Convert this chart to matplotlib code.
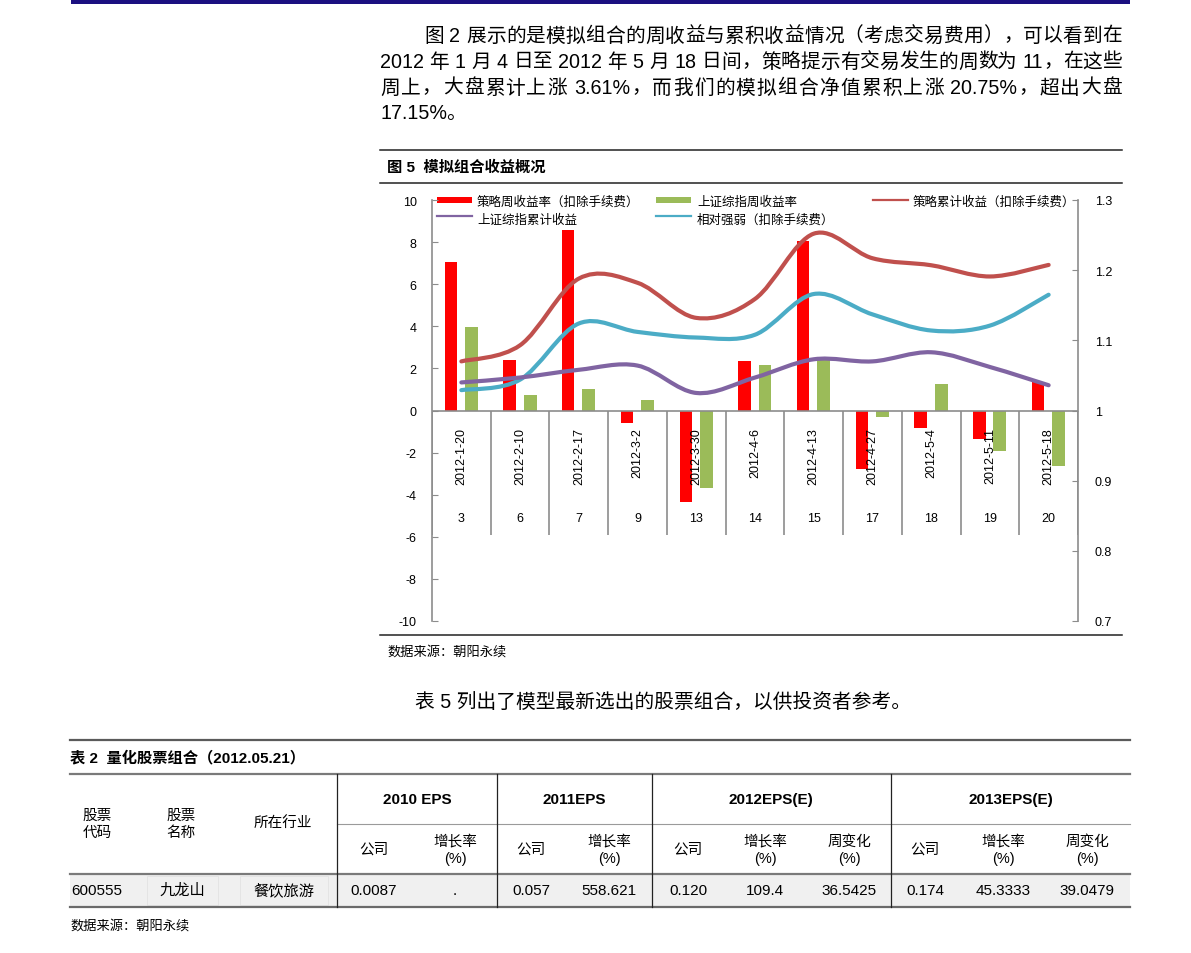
import re
import numpy as np
import matplotlib
matplotlib.use("Agg")
import matplotlib.pyplot as plt
from matplotlib.path import Path
from matplotlib.patches import PathPatch, Rectangle

plt.rcParams['font.family'] = ['Liberation Sans', 'Noto Sans CJK SC']
plt.rcParams['axes.unicode_minus'] = False

# chart data
dates = ["2012-1-20", "2012-2-10", "2012-2-17", "2012-3-2", "2012-3-30", "2012-4-6",
         "2012-4-13", "2012-4-27", "2012-5-4", "2012-5-11", "2012-5-18"]
weeks = ["3", "6", "7", "9", "13", "14", "15", "17", "18", "19", "20"]
strategy_weekly = [7.05, 2.42, 8.56, -0.60, -4.34, 2.34, 8.04, -2.77, -0.82, -1.34, 1.36]
index_weekly = [3.97, 0.73, 1.04, 0.52, -3.67, 2.15, 2.50, -0.30, 1.24, -1.93, -2.65]
strategy_cum = [1.070, 1.093, 1.188, 1.182, 1.132, 1.159, 1.252, 1.217, 1.207, 1.191, 1.2075]
index_cum = [1.040, 1.047, 1.058, 1.064, 1.025, 1.047, 1.073, 1.070, 1.083, 1.062, 1.036]
relative = [1.029, 1.044, 1.124, 1.112, 1.104, 1.108, 1.166, 1.137, 1.114, 1.121, 1.165]

left_ticks = [-10, -8, -6, -4, -2, 0, 2, 4, 6, 8, 10]
right_ticks = [0.7, 0.8, 0.9, 1.0, 1.1, 1.2, 1.3]

legend_labels = ["策略周收益率（扣除手续费）", "上证综指周收益率", "策略累计收益（扣除手续费）",
                 "上证综指累计收益", "相对强弱（扣除手续费）"]

# page text
para_lines = [
    "图 2 展示的是模拟组合的周收益与累积收益情况（考虑交易费用），可以看到在",
    "2012 年 1 月 4 日至 2012 年 5 月 18 日间，策略提示有交易发生的周数为 11，在这些",
    "周上，大盘累计上涨 3.61%，而我们的模拟组合净值累积上涨 20.75%，超出大盘",
    "17.15%。",
]
fig_title = "图 5  模拟组合收益概况"
source = "数据来源：朝阳永续"
para2 = "表 5 列出了模型最新选出的股票组合，以供投资者参考。"
table_title = "表 2  量化股票组合（2012.05.21）"

# table
group_heads = ["2010 EPS", "2011EPS", "2012EPS(E)", "2013EPS(E)"]
sub_heads = ["公司", "增长率\n(%)", "公司", "增长率\n(%)", "公司", "增长率\n(%)", "周变化\n(%)",
             "公司", "增长率\n(%)", "周变化\n(%)"]
row_vals = ["600555", "九龙山", "餐饮旅游", "0.0087", ".", "0.057", "558.621", "0.120",
            "109.4", "36.5425", "0.174", "45.3333", "39.0479"]

RED, GREEN = "#ff0000", "#9bbb59"
C_STRAT, C_IDX, C_REL = "#c0504d", "#8064a2", "#4bacc6"
GRAY = "#8c8c8c"

W, H = 1191, 954
fig = plt.figure(figsize=(W / 100, H / 100), dpi=100)
page = fig.add_axes([0, 0, 1, 1])
page.set_xlim(0, W)
page.set_ylim(H, 0)
page.axis("off")
renderer = fig.canvas.get_renderer()


def justified(s, x0, x1, y, size):
    toks = re.findall(r" |[0-9A-Za-z.%]+|.", s)
    items, sp = [], False
    for t in toks:
        if t == " ":
            sp = True
            continue
        items.append((t, sp))
        sp = False
    arts = [page.text(0, y, t, fontsize=size, va="center", ha="left") for t, _ in items]
    ws = [a.get_window_extent(renderer).width for a in arts]
    spw = size * 0.28 * 100 / 72
    base = sum(ws) + spw * sum(1 for _, s_ in items[1:] if s_)
    extra = (x1 - x0 - base) / (len(items) - 1)
    x = x0
    for i, (a, (t, s_)) in enumerate(zip(arts, items)):
        if i > 0:
            x += extra + (spw if s_ else 0)
        a.set_x(x)
        x += ws[i]


# header bar
page.add_patch(Rectangle((71, 0), 1059, 4.5, color="#1b0f80", lw=0))

# paragraph
justified(para_lines[0], 424, 1122, 36, 14.2)
justified(para_lines[1], 380, 1122, 62, 14.2)
justified(para_lines[2], 380, 1122, 88, 14.2)
page.text(380, 114, para_lines[3], fontsize=14.2, va="center")

# figure frame
for yy in (151, 184, 636):
    page.plot([380, 1122], [yy, yy], color="#222222", lw=1.1)
page.text(387, 168, fig_title, fontsize=11, fontweight="bold", va="center")
page.text(387, 652, source, fontsize=9.5, va="center")

# chart
ax = fig.add_axes([432 / W, 1 - 622 / H, (1078 - 432) / W, (622 - 201) / H])
ax2 = ax.twinx()
for a in (ax, ax2):
    a.patch.set_visible(False)
    for s in a.spines.values():
        s.set_visible(False)
ax.spines["left"].set_visible(True)
ax.spines["left"].set_color(GRAY)
ax.spines["left"].set_linewidth(1.2)
ax2.spines["right"].set_visible(True)
ax2.spines["right"].set_color(GRAY)
ax2.spines["right"].set_linewidth(1.2)

n = len(dates)
x = np.arange(n)
ax.set_xlim(-0.5, n - 0.5)
ax.set_ylim(-10, 10)
ax2.set_ylim(0.7, 1.3)
ax.bar(x - 0.18, strategy_weekly, width=0.21, color=RED, zorder=2)
ax.bar(x + 0.17, index_weekly, width=0.22, color=GREEN, zorder=2)
ax.axhline(0, color=GRAY, lw=1.2, zorder=3)
ax.vlines(np.arange(n + 1) - 0.5, -5.9, 0, color=GRAY, lw=1.2, zorder=3)
for i in range(n):
    ax.text(x[i], -0.8, dates[i], rotation=90, ha="center", va="top", fontsize=9, zorder=4)
    ax.text(x[i], -5.1, weeks[i], ha="center", va="center", fontsize=9)

ax.set_xticks([])
ax.set_yticks(left_ticks)
ax.set_yticklabels([str(t) for t in left_ticks])
ax.tick_params(axis="y", direction="in", length=4, color=GRAY, labelsize=9, pad=11)
ax2.set_yticks(right_ticks)
ax2.set_yticklabels(["%g" % t for t in right_ticks])
ax2.tick_params(axis="y", direction="in", length=4, color=GRAY, labelsize=9, pad=12)


def smooth(xs, ys):
    pts = np.column_stack([xs, ys])
    m = len(pts)
    verts, codes = [pts[0]], [Path.MOVETO]
    for i in range(m - 1):
        p0, p1 = pts[max(i - 1, 0)], pts[i]
        p2, p3 = pts[i + 1], pts[min(i + 2, m - 1)]
        verts += [p1 + (p2 - p0) / 6, p2 - (p3 - p1) / 6, p2]
        codes += [Path.CURVE4] * 3
    return Path(verts, codes)


for ys, c in ((strategy_cum, C_STRAT), (relative, C_REL), (index_cum, C_IDX)):
    ax2.add_patch(PathPatch(smooth(x, ys), facecolor="none", edgecolor=c, lw=3,
                            capstyle="round", zorder=5))

# legend
page.add_patch(Rectangle((437, 197.5), 35, 6.5, color=RED, lw=0))
page.text(477, 202.5, legend_labels[0], fontsize=9, va="center")
page.add_patch(Rectangle((656, 197.5), 35, 6.5, color=GREEN, lw=0))
page.text(697, 202.5, legend_labels[1], fontsize=9, va="center")
page.plot([873, 908], [200.5, 200.5], color=C_STRAT, lw=1.6)
page.text(913, 202.5, legend_labels[2], fontsize=9, va="center")
page.plot([437, 472], [217, 217], color=C_IDX, lw=1.6)
page.text(477, 220.5, legend_labels[3], fontsize=9, va="center")
page.plot([656, 691], [217, 217], color=C_REL, lw=1.6)
page.text(697, 220.5, legend_labels[4], fontsize=9, va="center")

# second paragraph
page.text(415, 703, para2, fontsize=14.2, va="center")

# table
page.plot([70, 1130], [741, 741], color="#5a5a5a", lw=1.6)
page.text(70, 758, table_title, fontsize=11, fontweight="bold", va="center")
page.plot([70, 1130], [775, 775], color="#7a7a7a", lw=1.6)
page.add_patch(Rectangle((70, 875), 1060, 33, color="#f0f0f0", lw=0))
page.add_patch(Rectangle((147, 877), 71, 29, fill=False, ec="#e2e2e2", lw=0.6))
page.add_patch(Rectangle((240, 877), 88, 29, fill=False, ec="#e2e2e2", lw=0.6))
page.plot([337, 1130], [825, 825], color="#9a9a9a", lw=0.8)
page.plot([70, 1130], [875, 875], color="#7a7a7a", lw=1.6)
page.plot([70, 1130], [908, 908], color="#6a6a6a", lw=1.6)
for xx in (337, 497, 652, 891):
    page.plot([xx, xx], [775, 908], color="#222222", lw=0.9)

page.text(97, 824, "股票\n代码", fontsize=10.5, ha="center", va="center", linespacing=1.3)
page.text(181, 824, "股票\n名称", fontsize=10.5, ha="center", va="center", linespacing=1.3)
page.text(283, 823, "所在行业", fontsize=10.5, ha="center", va="center")
for gx, gh in zip((417, 574, 771, 1011), group_heads):
    page.text(gx, 800, gh, fontsize=11, fontweight="bold", ha="center", va="center")
sub_x = [374, 455, 531, 609, 688, 765, 849, 925, 1003, 1087]
for sx, sh in zip(sub_x, sub_heads):
    page.text(sx, 850, sh, fontsize=10.5, ha="center", va="center", linespacing=1.3)
row_x = [97, 182, 284] + sub_x
for rx, rv in zip(row_x, row_vals):
    page.text(rx, 891, rv, fontsize=11, ha="center", va="center")
page.text(70, 926, source, fontsize=9.5, va="center")

fig.savefig("out.png", dpi=100)
